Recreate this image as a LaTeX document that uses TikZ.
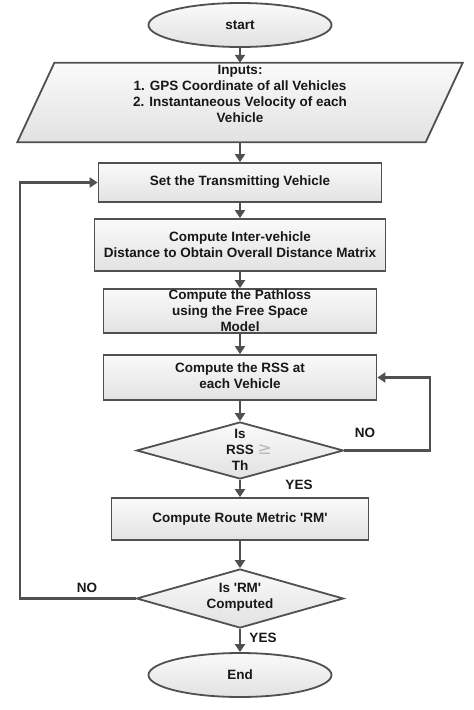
\documentclass[tikz,border=0pt]{standalone}
\usepackage{fontspec}
\setmainfont{Liberation Sans}
\newfontfamily\symf{DejaVu Sans}
\usetikzlibrary{shapes.geometric,arrows.meta,calc}
\definecolor{linec}{HTML}{505050}
\definecolor{txtc}{HTML}{181818}
\definecolor{filltop}{HTML}{FAFAFA}
\definecolor{fillbot}{HTML}{E2E2E2}
\begin{document}
\begin{tikzpicture}[x=1pt,y=-1pt,
  every node/.style={font=\fontsize{13.5}{16}\selectfont\bfseries, text=txtc, align=center},
  shp/.style={draw=linec, line width=1.8pt, top color=filltop, bottom color=fillbot, inner sep=0pt},
  procbox/.style={shp, rectangle},
  term/.style={shp, ellipse},
  decide/.style={shp, diamond},
  txt/.style={inner sep=0pt},
  lbl/.style={inner sep=0pt},
  arr/.style={draw=linec, line width=2.2pt, -{Triangle[width=10pt,length=8pt]}},
  ln/.style={draw=linec, line width=2.2pt}]
\useasboundingbox (0,0) rectangle (474,710);

\node[term, minimum width=183pt, minimum height=44pt] (start) at (240,25) {start};

\node[minimum width=408pt, minimum height=79pt, inner sep=0pt] (inp) at (240,102.5) {};
\shade[top color=filltop, bottom color=fillbot, draw=linec, line width=1.8pt, line join=miter]
  ($(inp.north west)+(18.5,0)$) -- ($(inp.north east)+(18.5,0)$) --
  ($(inp.south east)-(18.5,0)$) -- ($(inp.south west)-(18.5,0)$) -- cycle;
\node[txt] (inptxt) at (240,94) {Inputs:\\1. GPS Coordinate of all Vehicles\\2. Instantaneous Velocity of each\\Vehicle};

\node[procbox, minimum width=283pt, minimum height=39pt] (set) at (240,182.5) {Set the Transmitting Vehicle};
\node[procbox, minimum width=291pt, minimum height=52pt] (inter) at (240,245) {Compute Inter-vehicle\\Distance to Obtain Overall Distance Matrix};
\node[procbox, minimum width=273pt, minimum height=44pt] (path) at (240,311) {Compute the Pathloss\\using the Free Space\\Model};
\node[procbox, minimum width=273pt, minimum height=45pt] (rss) at (240,377.5) {};
\node[txt] (rsstxt) at (240,376) {Compute the RSS at\\each Vehicle};
\node[decide, minimum width=207pt, minimum height=57pt] (d1) at (240,450.5) {};
\node[txt] (d1txt) at (240,450) {Is\\RSS\rlap{\ {\symf\mdseries\fontsize{17}{16}\selectfont\color{gray!55}≥}}\\Th};
\node[procbox, minimum width=257pt, minimum height=42pt] (route) at (240,519) {Compute Route Metric \textquotesingle RM\textquotesingle};
\node[decide, minimum width=207pt, minimum height=59pt] (d2) at (240,598.5) {};
\node[txt] (d2txt) at (240,597.5) {Is \textquotesingle RM\textquotesingle\\Computed};
\node[term, minimum width=183pt, minimum height=44pt] (end) at (240,675) {End};

\draw[arr] (start) -- (inp.north);
\draw[arr] (inp.south) -- (set);
\draw[arr] (set) -- (inter);
\draw[arr] (inter) -- (path);
\draw[arr] (path) -- (rss);
\draw[arr] (rss) -- (d1);
\draw[arr] (d1) -- (route);
\draw[arr] (route) -- (d2);
\draw[arr] (d2) -- (end);

\coordinate (r1) at (430,377.5);
\draw[arr] (d1.east) -| (r1) -- (rss.east);
\coordinate (l1) at (20,182.5);
\draw[arr] (d2.west) -| (l1) -- (set.west);

\node[lbl] (no1) at (365,433) {NO};
\node[lbl] (yes1) at (299,485) {YES};
\node[lbl] (no2) at (87,588) {NO};
\node[lbl] (yes2) at (263,638) {YES};
\end{tikzpicture}
\end{document}
